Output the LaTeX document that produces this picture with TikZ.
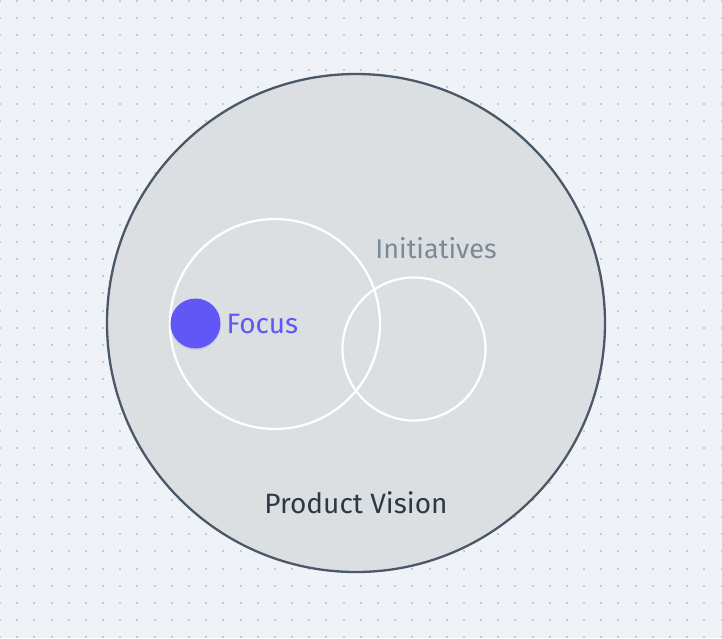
\documentclass[tikz,border=0pt]{standalone}
\usepackage{fontspec}
\setmainfont{Fira Sans}
\usepackage{tikz}
\usetikzlibrary{shadows}
\definecolor{bgcol}{HTML}{EFF3F7}
\definecolor{dotcol}{HTML}{C3CBD6}
\definecolor{visionfill}{HTML}{DCDFE2}
\definecolor{visionline}{HTML}{4A5868}
\definecolor{focuscol}{HTML}{6157F6}
\definecolor{initcol}{HTML}{7B8A9A}
\definecolor{textdark}{HTML}{2C3947}
\tikzset{
  griddot/.style={fill=dotcol},
  ring/.style={circle,draw=white,line width=2.2pt,inner sep=0pt},
  label text/.style={font=\fontsize{28}{33}\selectfont}
}

\begin{document}
\begin{tikzpicture}[x=1pt,y=-1pt]
\fill[bgcol] (0,0) rectangle (722,638);
\useasboundingbox (0,0) rectangle (722,638);
\foreach \i in {0,...,42}
\foreach \j in {0,...,37}
\fill[griddot] ({17.18*\i-1},{1+17.2*\j-1}) rectangle ++(2,2);
\node[circle,draw=visionline,fill=visionfill,line width=2.3pt,minimum size=498pt,inner sep=0pt] (vision) at (356,323) {};
\node[ring,minimum size=210pt] (bigring) at (275,324) {};
\node[ring,minimum size=143pt] (smallring) at (414,349) {};
\node[circle,fill=focuscol,minimum size=50pt,inner sep=0pt,drop shadow={shadow xshift=0pt,shadow yshift=-2pt,opacity=0.15}] (dot) at (195.5,323.5) {};
\node[anchor=west,text=focuscol,label text] (focus) at (223,324) {Focus};
\node[text=initcol,label text,font=\fontsize{27}{32}\selectfont] (initiatives) at (436,248) {Initiatives};
\node[text=textdark,label text] (productvision) at (356,503) {Product Vision};
\end{tikzpicture}
\end{document}
